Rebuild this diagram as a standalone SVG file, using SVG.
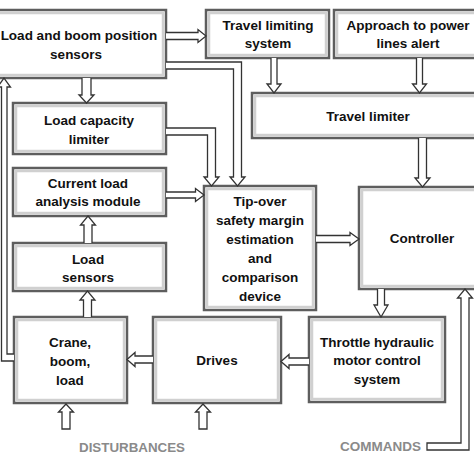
<svg xmlns="http://www.w3.org/2000/svg" width="474" height="474" viewBox="0 0 474 474">
<style>
.b{fill:#fff;stroke:#5e5e5e;stroke-width:2.5}
.i{fill:none;stroke:#d0d0d0;stroke-width:2.5}
.t{font-family:"Liberation Sans",Arial,sans-serif;font-weight:bold;font-size:13.5px;fill:#111;text-anchor:middle}
.g{font-family:"Liberation Sans",Arial,sans-serif;font-weight:bold;font-size:13.5px;fill:#8a8a8a}
.a{fill:#fff;stroke:#333;stroke-width:1.3;stroke-linejoin:miter}
</style>
<rect width="474" height="474" fill="#fff"/>
<g id="lbps"><rect class="b" x="-10" y="10" width="176" height="68"/><rect class="i" x="-7" y="13" width="170" height="62"/><text class="t" x="79" y="39.5">Load and boom position</text><text class="t" x="76" y="58.5">sensors</text></g>
<g id="lcl"><rect class="b" x="13" y="103" width="153" height="51"/><rect class="i" x="16" y="106" width="147" height="45"/><text class="t" x="89" y="125">Load capacity</text><text class="t" x="89" y="143.5">limiter</text></g>
<g id="tls"><rect class="b" x="206" y="10" width="123" height="48"/><rect class="i" x="209" y="13" width="117" height="42"/><text class="t" x="268" y="29.5">Travel limiting</text><text class="t" x="268" y="47.5">system</text></g>
<g id="apl"><rect class="b" x="334" y="10" width="150" height="48"/><rect class="i" x="337" y="13" width="144" height="42"/><text class="t" x="408" y="29.5">Approach to power</text><text class="t" x="408" y="47.5">lines alert</text></g>
<g id="tl"><rect class="b" x="252" y="93" width="232" height="45"/><rect class="i" x="255" y="96" width="226" height="39"/><text class="t" x="368" y="120.5">Travel limiter</text></g>
<g id="clam"><rect class="b" x="13" y="168" width="153" height="48"/><rect class="i" x="16" y="171" width="147" height="42"/><text class="t" x="88" y="187.5">Current load</text><text class="t" x="88" y="206">analysis module</text></g>
<g id="ls"><rect class="b" x="13" y="243" width="153" height="48"/><rect class="i" x="16" y="246" width="147" height="42"/><text class="t" x="88" y="263.5">Load</text><text class="t" x="88" y="282">sensors</text></g>
<g id="tip"><rect class="b" x="204" y="186" width="112" height="124"/><rect class="i" x="207" y="189" width="106" height="118"/><text class="t" x="260" y="205.5">Tip-over</text><text class="t" x="260" y="224.5">safety margin</text><text class="t" x="260" y="243.5">estimation</text><text class="t" x="260" y="262.5">and</text><text class="t" x="260" y="281.5">comparison</text><text class="t" x="260" y="300.5">device</text></g>
<g id="ctrl"><rect class="b" x="359" y="187" width="125" height="102"/><rect class="i" x="362" y="190" width="119" height="96"/><text class="t" x="422" y="243">Controller</text></g>
<g id="crane"><rect class="b" x="14" y="317" width="113" height="86"/><rect class="i" x="17" y="320" width="107" height="80"/><text class="t" x="70" y="347">Crane,</text><text class="t" x="70" y="366">boom,</text><text class="t" x="70" y="384.5">load</text></g>
<g id="drives"><rect class="b" x="153" y="317" width="128" height="86"/><rect class="i" x="156" y="320" width="122" height="80"/><text class="t" x="217" y="365">Drives</text></g>
<g id="thr"><rect class="b" x="309" y="317" width="136" height="85"/><rect class="i" x="312" y="320" width="130" height="79"/><text class="t" x="377" y="346.5">Throttle hydraulic</text><text class="t" x="377" y="365">motor control</text><text class="t" x="377" y="383.5">system</text></g>
<g id="labels"><text class="g" x="79" y="452" textLength="106" lengthAdjust="spacingAndGlyphs">DISTURBANCES</text><text class="g" x="340" y="451" textLength="81" lengthAdjust="spacingAndGlyphs">COMMANDS</text></g>
<g id="connectors">
<path class="a" d="M166,32.5 H198 V29.5 L206,36 L198,42.5 V39.5 H166"/>
<path class="a" d="M82,78 V95 H79 L86.5,103 L94,95 H91 V78"/>
<path class="a" d="M271,58 V84 H267 L274,93 L281,84 H277 V58"/>
<path class="a" d="M416.5,58 V84 H412.5 L419.5,93 L426.5,84 H422.5 V58"/>
<path class="a" d="M418.5,138 V178 H415 L422.5,187 L430,178 H426.5 V138"/>
<path class="a" d="M166,62 H241.5 V177 H245 L237.5,186 L230,177 H233.5 V69 H166"/>
<path class="a" d="M166,128 H215.5 V177 H219 L211.5,186 L204,177 H207.5 V135 H166"/>
<path class="a" d="M166,192 H195.5 V188.5 L204,195 L195.5,201.5 V198 H166"/>
<path class="a" d="M316,235.5 H350 V232.5 L359,239 L350,245.5 V242.5 H316"/>
<path class="a" d="M84,243 V225 H80.5 L88,216 L95.5,225 H92 V243"/>
<path class="a" d="M83.5,317 V300 H80 L87.5,291 L95,300 H91.5 V317"/>
<path class="a" d="M377.5,289 V305 H374 L381,317 L388,305 H384.5 V289"/>
<path class="a" d="M309,358 H289 V354.5 L281,361.5 L289,368.5 V365 H309"/>
<path class="a" d="M153,356 H135 V352.5 L127,359.5 L135,366.5 V363 H153"/>
<path class="a" d="M62,429 V412 H58.5 L66,404 L73.5,412 H70 V429 Z"/>
<path class="a" d="M199,429 V412 H195.5 L203,404 L210.5,412 H207 V429 Z"/>
<path class="a" d="M427,443 H461 V298 H457.5 L465,289 L472.5,298 H469 V450 H427 Z"/>
<path class="a" d="M14,354 H7 V87 H10.5 L4,78 L-2.5,87 H1.5 V361 H14"/>
</g>
</svg>
